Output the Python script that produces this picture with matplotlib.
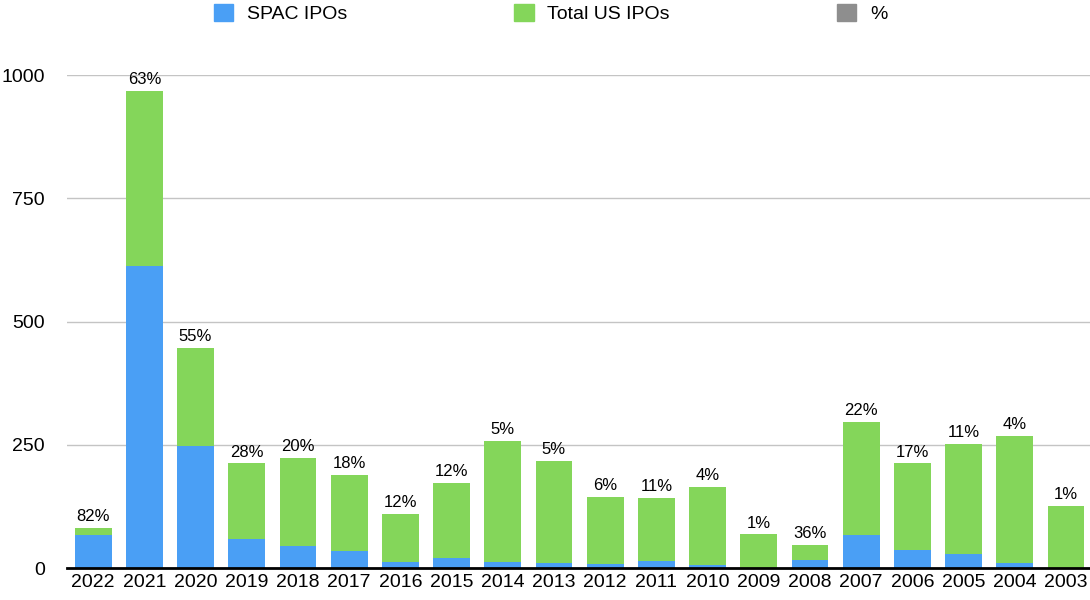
import matplotlib.pyplot as plt
from matplotlib.patches import Patch

plt.rcParams['font.family'] = ['Liberation Sans', 'DejaVu Sans']

years = ['2022', '2021', '2020', '2019', '2018', '2017', '2016', '2015', '2014', '2013',
         '2012', '2011', '2010', '2009', '2008', '2007', '2006', '2005', '2004', '2003']
spac_ipos = [67, 613, 248, 59, 45, 34, 13, 20, 12, 11, 9, 15, 7, 1, 17, 66, 36, 28, 11, 1]
total_ipos = [82, 967, 447, 212, 224, 188, 109, 172, 257, 218, 145, 143, 165, 68, 46, 297, 212, 251, 268, 125]
pct_labels = ['82%', '63%', '55%', '28%', '20%', '18%', '12%', '12%', '5%', '5%',
              '6%', '11%', '4%', '1%', '36%', '22%', '17%', '11%', '4%', '1%']

blue = '#4a9ff5'
green = '#84d65a'
grey = '#8e8e8e'

fig = plt.figure(figsize=(10.9, 6), dpi=100)
ax = fig.add_axes([0.0615, 0.0533, 0.9385, 0.8217])

x = list(range(len(years)))
ax.bar(x, total_ipos, width=0.72, color=green, zorder=2)
ax.bar(x, spac_ipos, width=0.72, color=blue, zorder=3)

# percentage labels above each bar
for xi, tot, lab in zip(x, total_ipos, pct_labels):
    ax.text(xi, tot + 8, lab, ha='center', va='bottom', fontsize=12, zorder=4)

ax.set_ylim(0, 1000)
ax.set_xlim(-0.51, 19.47)
ax.set_yticks([0, 250, 500, 750, 1000])
ax.set_xticks(x)
ax.set_xticklabels(years)
ax.tick_params(axis='both', length=0, labelsize=14)
ax.tick_params(axis='y', pad=16)
ax.tick_params(axis='x', pad=4)
ax.yaxis.grid(True, color='#c4c4c4', linewidth=1, zorder=0)
ax.set_axisbelow(True)
for s in ['top', 'right', 'left']:
    ax.spines[s].set_visible(False)
ax.spines['bottom'].set_linewidth(2)
ax.spines['bottom'].set_zorder(5)

handles = [Patch(color=blue, label='SPAC IPOs'),
           Patch(color=green, label='Total US IPOs'),
           Patch(color=grey, label='%')]
fig.legend(handles=handles, loc='center', bbox_to_anchor=(0.505, 0.978), ncol=3,
           frameon=False, fontsize=14, handlelength=1.0, handleheight=1.0,
           handletextpad=0.7, columnspacing=8.6)

fig.savefig('out.png', dpi=100)
